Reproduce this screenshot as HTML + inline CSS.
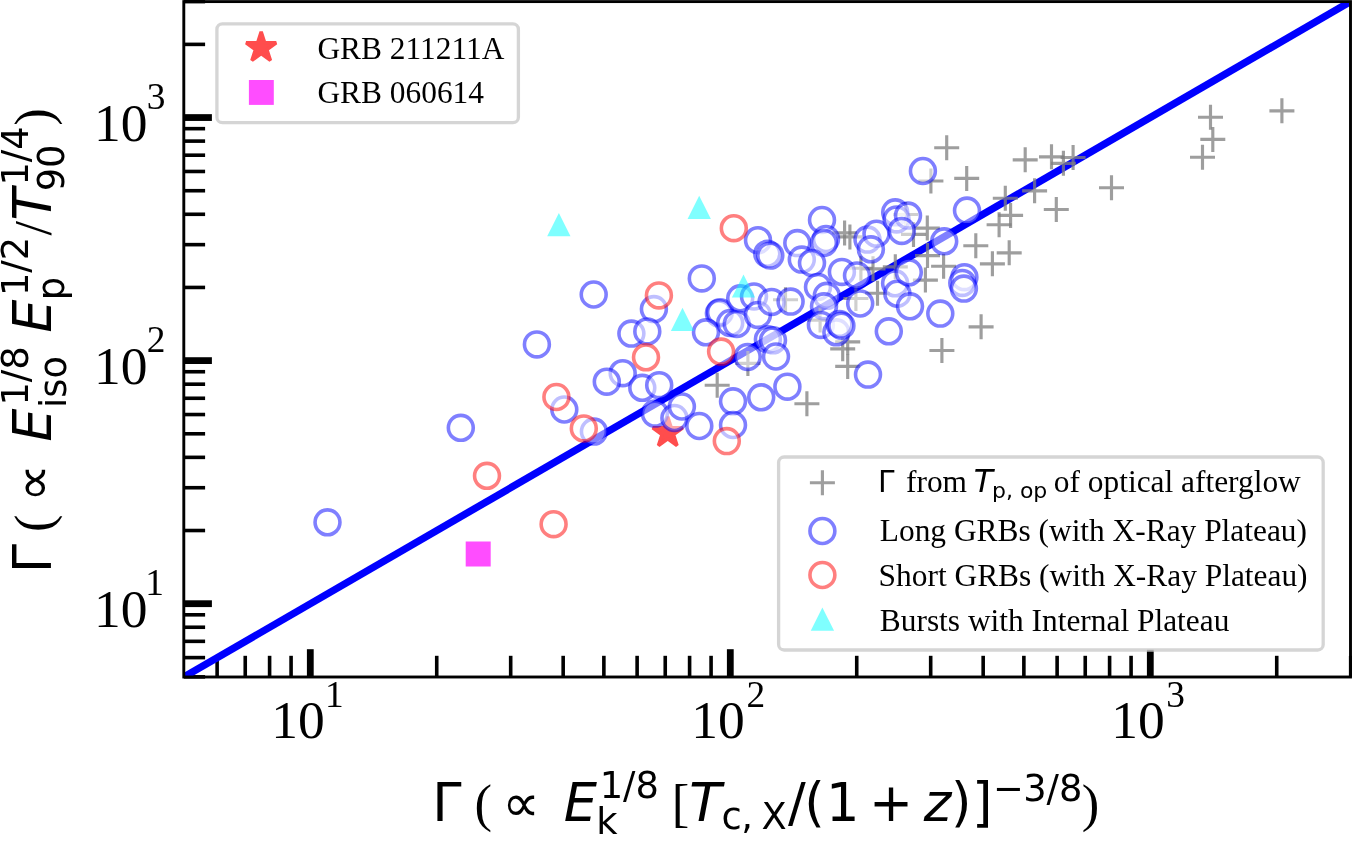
<!DOCTYPE html>
<html lang="en"><head><meta charset="utf-8"><title>Gamma correlation plot</title>
<style>html,body{margin:0;padding:0;background:#fff}svg{display:block}</style></head>
<body>
<svg width="1352" height="845" viewBox="0 0 1352 845">
<rect width="1352" height="845" fill="#fff"/>
<clipPath id="ax"><rect x="183.8" y="1.6" width="1166.7" height="675.4"/></clipPath>
<g stroke="#000" fill="none">
<line x1="310.30" y1="677.0" x2="310.30" y2="649.2" stroke-width="6.8"/>
<line x1="183.8" y1="603.69" x2="211.9" y2="603.69" stroke-width="6.8"/>
<line x1="730.30" y1="677.0" x2="730.30" y2="649.2" stroke-width="6.8"/>
<line x1="183.8" y1="360.62" x2="211.9" y2="360.62" stroke-width="6.8"/>
<line x1="1150.30" y1="677.0" x2="1150.30" y2="649.2" stroke-width="6.8"/>
<line x1="183.8" y1="117.55" x2="211.9" y2="117.55" stroke-width="6.8"/>
<line x1="183.8" y1="676.86" x2="205.1" y2="676.86" stroke-width="3.6"/>
<line x1="217.12" y1="677.0" x2="217.12" y2="655.8" stroke-width="3.6"/>
<line x1="183.8" y1="657.61" x2="205.1" y2="657.61" stroke-width="3.6"/>
<line x1="245.24" y1="677.0" x2="245.24" y2="655.8" stroke-width="3.6"/>
<line x1="183.8" y1="641.34" x2="205.1" y2="641.34" stroke-width="3.6"/>
<line x1="269.60" y1="677.0" x2="269.60" y2="655.8" stroke-width="3.6"/>
<line x1="183.8" y1="627.25" x2="205.1" y2="627.25" stroke-width="3.6"/>
<line x1="291.08" y1="677.0" x2="291.08" y2="655.8" stroke-width="3.6"/>
<line x1="183.8" y1="614.81" x2="205.1" y2="614.81" stroke-width="3.6"/>
<line x1="436.73" y1="677.0" x2="436.73" y2="655.8" stroke-width="3.6"/>
<line x1="183.8" y1="530.52" x2="205.1" y2="530.52" stroke-width="3.6"/>
<line x1="510.69" y1="677.0" x2="510.69" y2="655.8" stroke-width="3.6"/>
<line x1="183.8" y1="487.72" x2="205.1" y2="487.72" stroke-width="3.6"/>
<line x1="563.17" y1="677.0" x2="563.17" y2="655.8" stroke-width="3.6"/>
<line x1="183.8" y1="457.35" x2="205.1" y2="457.35" stroke-width="3.6"/>
<line x1="603.87" y1="677.0" x2="603.87" y2="655.8" stroke-width="3.6"/>
<line x1="183.8" y1="433.79" x2="205.1" y2="433.79" stroke-width="3.6"/>
<line x1="637.12" y1="677.0" x2="637.12" y2="655.8" stroke-width="3.6"/>
<line x1="183.8" y1="414.54" x2="205.1" y2="414.54" stroke-width="3.6"/>
<line x1="665.24" y1="677.0" x2="665.24" y2="655.8" stroke-width="3.6"/>
<line x1="183.8" y1="398.27" x2="205.1" y2="398.27" stroke-width="3.6"/>
<line x1="689.60" y1="677.0" x2="689.60" y2="655.8" stroke-width="3.6"/>
<line x1="183.8" y1="384.18" x2="205.1" y2="384.18" stroke-width="3.6"/>
<line x1="711.08" y1="677.0" x2="711.08" y2="655.8" stroke-width="3.6"/>
<line x1="183.8" y1="371.74" x2="205.1" y2="371.74" stroke-width="3.6"/>
<line x1="856.73" y1="677.0" x2="856.73" y2="655.8" stroke-width="3.6"/>
<line x1="183.8" y1="287.45" x2="205.1" y2="287.45" stroke-width="3.6"/>
<line x1="930.69" y1="677.0" x2="930.69" y2="655.8" stroke-width="3.6"/>
<line x1="183.8" y1="244.65" x2="205.1" y2="244.65" stroke-width="3.6"/>
<line x1="983.17" y1="677.0" x2="983.17" y2="655.8" stroke-width="3.6"/>
<line x1="183.8" y1="214.28" x2="205.1" y2="214.28" stroke-width="3.6"/>
<line x1="1023.87" y1="677.0" x2="1023.87" y2="655.8" stroke-width="3.6"/>
<line x1="183.8" y1="190.72" x2="205.1" y2="190.72" stroke-width="3.6"/>
<line x1="1057.12" y1="677.0" x2="1057.12" y2="655.8" stroke-width="3.6"/>
<line x1="183.8" y1="171.47" x2="205.1" y2="171.47" stroke-width="3.6"/>
<line x1="1085.24" y1="677.0" x2="1085.24" y2="655.8" stroke-width="3.6"/>
<line x1="183.8" y1="155.20" x2="205.1" y2="155.20" stroke-width="3.6"/>
<line x1="1109.60" y1="677.0" x2="1109.60" y2="655.8" stroke-width="3.6"/>
<line x1="183.8" y1="141.11" x2="205.1" y2="141.11" stroke-width="3.6"/>
<line x1="1131.08" y1="677.0" x2="1131.08" y2="655.8" stroke-width="3.6"/>
<line x1="183.8" y1="128.67" x2="205.1" y2="128.67" stroke-width="3.6"/>
<line x1="1276.73" y1="677.0" x2="1276.73" y2="655.8" stroke-width="3.6"/>
<line x1="183.8" y1="44.38" x2="205.1" y2="44.38" stroke-width="3.6"/>
<line x1="1350.69" y1="677.0" x2="1350.69" y2="655.8" stroke-width="3.6"/>
<line x1="183.8" y1="1.58" x2="205.1" y2="1.58" stroke-width="3.6"/>
</g>
<g clip-path="url(#ax)">
<line x1="183.8" y1="677.0" x2="1350.5" y2="1.6" stroke="#0000ff" stroke-width="7.3"/>
<g stroke="#808080" stroke-opacity="0.76" stroke-width="3.15" fill="none">
<path d="M773.0 299.7H798.0M785.5 287.2V312.2"/>
<path d="M807.6 320.1H832.6M820.1 307.6V332.6"/>
<path d="M843.4 298.5H868.4M855.9 286.0V311.0"/>
<path d="M830.2 348.8H855.2M842.7 336.3V361.3"/>
<path d="M835.2 341.9H860.2M847.7 329.4V354.4"/>
<path d="M835.2 366.4H860.2M847.7 353.9V378.9"/>
<path d="M929.4 350.5H954.4M941.9 338.0V363.0"/>
<path d="M735.4 363.4H760.4M747.9 350.9V375.9"/>
<path d="M704.7 385.2H729.7M717.2 372.7V397.7"/>
<path d="M794.4 403.7H819.4M806.9 391.2V416.2"/>
<path d="M968.6 326.8H993.6M981.1 314.3V339.3"/>
<path d="M931.1 266.2H956.1M943.6 253.7V278.7"/>
<path d="M979.9 263.8H1004.9M992.4 251.3V276.3"/>
<path d="M996.7 252.8H1021.7M1009.2 240.3V265.3"/>
<path d="M963.3 245.7H988.3M975.8 233.2V258.2"/>
<path d="M934.2 147.7H959.2M946.7 135.2V160.2"/>
<path d="M918.4 181.0H943.4M930.9 168.5V193.5"/>
<path d="M954.2 178.4H979.2M966.7 165.9V190.9"/>
<path d="M832.1 232.9H857.1M844.6 220.4V245.4"/>
<path d="M837.4 236.9H862.4M849.9 224.4V249.4"/>
<path d="M893.1 214.5H918.1M905.6 202.0V227.0"/>
<path d="M914.8 228.1H939.8M927.3 215.6V240.6"/>
<path d="M901.0 234.4H926.0M913.5 221.9V246.9"/>
<path d="M915.0 255.6H940.0M927.5 243.1V268.1"/>
<path d="M912.9 280.1H937.9M925.4 267.6V292.6"/>
<path d="M882.8 266.8H907.8M895.3 254.3V279.3"/>
<path d="M860.5 268.8H885.5M873.0 256.3V281.3"/>
<path d="M865.0 293.2H890.0M877.5 280.7V305.7"/>
<path d="M848.4 268.2H873.4M860.9 255.7V280.7"/>
<path d="M1012.7 159.8H1037.7M1025.2 147.3V172.3"/>
<path d="M1039.0 156.8H1064.0M1051.5 144.3V169.3"/>
<path d="M1050.9 163.3H1075.9M1063.4 150.8V175.8"/>
<path d="M1060.6 157.5H1085.6M1073.1 145.0V170.0"/>
<path d="M1022.1 190.8H1047.1M1034.6 178.3V203.3"/>
<path d="M992.8 198.2H1017.8M1005.3 185.7V210.7"/>
<path d="M998.1 215.4H1023.1M1010.6 202.9V227.9"/>
<path d="M986.6 224.7H1011.6M999.1 212.2V237.2"/>
<path d="M1043.8 209.5H1068.8M1056.3 197.0V222.0"/>
<path d="M1099.0 187.7H1124.0M1111.5 175.2V200.2"/>
<path d="M1198.0 117.2H1223.0M1210.5 104.7V129.7"/>
<path d="M1200.3 139.4H1225.3M1212.8 126.9V151.9"/>
<path d="M1190.0 157.2H1215.0M1202.5 144.7V169.7"/>
<path d="M1269.4 110.8H1294.4M1281.9 98.3V123.3"/>
</g>
<path d="M667.75 416.90L671.30 427.82L682.78 427.82L673.49 434.56L677.04 445.48L667.75 438.74L658.46 445.48L662.01 434.56L652.72 427.82L664.20 427.82Z" fill="#ff4d4d" stroke="#ff4d4d" stroke-width="3.45" stroke-linejoin="bevel"/>
<rect x="465.7" y="541.5" width="25" height="25" fill="#ff4dff"/>
<g stroke="#0000ff" stroke-opacity="0.5" stroke-width="3.6" fill="#fff" fill-opacity="0.5">
<circle cx="327.5" cy="522.3" r="12.45"/>
<circle cx="460.8" cy="427.8" r="12.45"/>
<circle cx="564.3" cy="409.5" r="12.45"/>
<circle cx="593.9" cy="431.6" r="12.45"/>
<circle cx="622.7" cy="373.2" r="12.45"/>
<circle cx="606.8" cy="381.7" r="12.45"/>
<circle cx="536.9" cy="344.4" r="12.45"/>
<circle cx="593.7" cy="294.5" r="12.45"/>
<circle cx="653.9" cy="309.1" r="12.45"/>
<circle cx="631.4" cy="333.6" r="12.45"/>
<circle cx="647.3" cy="331.4" r="12.45"/>
<circle cx="701.8" cy="278.4" r="12.45"/>
<circle cx="718.9" cy="313.3" r="12.45"/>
<circle cx="720.1" cy="312.2" r="12.45"/>
<circle cx="706.0" cy="332.3" r="12.45"/>
<circle cx="642.3" cy="387.8" r="12.45"/>
<circle cx="659.2" cy="385.2" r="12.45"/>
<circle cx="654.9" cy="413.6" r="12.45"/>
<circle cx="674.4" cy="418.0" r="12.45"/>
<circle cx="681.9" cy="406.5" r="12.45"/>
<circle cx="699.3" cy="426.0" r="12.45"/>
<circle cx="733.0" cy="401.3" r="12.45"/>
<circle cx="733.0" cy="425.0" r="12.45"/>
<circle cx="730.2" cy="323.0" r="12.45"/>
<circle cx="736.8" cy="323.9" r="12.45"/>
<circle cx="740.2" cy="298.3" r="12.45"/>
<circle cx="754.0" cy="296.5" r="12.45"/>
<circle cx="757.9" cy="314.9" r="12.45"/>
<circle cx="771.6" cy="301.9" r="12.45"/>
<circle cx="790.6" cy="301.6" r="12.45"/>
<circle cx="767.9" cy="339.3" r="12.45"/>
<circle cx="773.0" cy="340.3" r="12.45"/>
<circle cx="747.7" cy="356.9" r="12.45"/>
<circle cx="776.0" cy="356.5" r="12.45"/>
<circle cx="758.0" cy="240.2" r="12.45"/>
<circle cx="767.3" cy="253.8" r="12.45"/>
<circle cx="770.3" cy="255.6" r="12.45"/>
<circle cx="797.3" cy="243.1" r="12.45"/>
<circle cx="822.0" cy="220.0" r="12.45"/>
<circle cx="826.0" cy="239.0" r="12.45"/>
<circle cx="823.9" cy="242.9" r="12.45"/>
<circle cx="801.8" cy="259.6" r="12.45"/>
<circle cx="812.0" cy="263.0" r="12.45"/>
<circle cx="841.9" cy="271.9" r="12.45"/>
<circle cx="857.0" cy="275.5" r="12.45"/>
<circle cx="867.5" cy="239.6" r="12.45"/>
<circle cx="876.5" cy="233.7" r="12.45"/>
<circle cx="870.9" cy="249.3" r="12.45"/>
<circle cx="818.0" cy="287.0" r="12.45"/>
<circle cx="826.8" cy="295.8" r="12.45"/>
<circle cx="824.0" cy="306.3" r="12.45"/>
<circle cx="860.2" cy="303.5" r="12.45"/>
<circle cx="895.2" cy="212.3" r="12.45"/>
<circle cx="896.6" cy="219.4" r="12.45"/>
<circle cx="908.0" cy="215.6" r="12.45"/>
<circle cx="901.8" cy="230.9" r="12.45"/>
<circle cx="922.9" cy="171.0" r="12.45"/>
<circle cx="944.2" cy="241.3" r="12.45"/>
<circle cx="967.0" cy="210.6" r="12.45"/>
<circle cx="895.1" cy="283.3" r="12.45"/>
<circle cx="897.4" cy="293.7" r="12.45"/>
<circle cx="908.8" cy="272.3" r="12.45"/>
<circle cx="910.0" cy="306.3" r="12.45"/>
<circle cx="940.3" cy="313.6" r="12.45"/>
<circle cx="888.8" cy="331.3" r="12.45"/>
<circle cx="820.9" cy="324.9" r="12.45"/>
<circle cx="836.4" cy="332.3" r="12.45"/>
<circle cx="839.4" cy="323.9" r="12.45"/>
<circle cx="841.4" cy="325.7" r="12.45"/>
<circle cx="868.0" cy="374.6" r="12.45"/>
<circle cx="787.4" cy="386.7" r="12.45"/>
<circle cx="761.2" cy="397.3" r="12.45"/>
<circle cx="964.4" cy="277.2" r="12.45"/>
<circle cx="962.3" cy="282.9" r="12.45"/>
<circle cx="963.9" cy="288.6" r="12.45"/>
</g>
<g stroke="#ff0000" stroke-opacity="0.5" stroke-width="3.6" fill="#fff" fill-opacity="0.5">
<circle cx="487.0" cy="475.8" r="12.45"/>
<circle cx="553.6" cy="524.2" r="12.45"/>
<circle cx="556.4" cy="397.0" r="12.45"/>
<circle cx="583.8" cy="428.4" r="12.45"/>
<circle cx="646.0" cy="357.3" r="12.45"/>
<circle cx="658.9" cy="295.4" r="12.45"/>
<circle cx="733.8" cy="228.2" r="12.45"/>
<circle cx="721.1" cy="351.6" r="12.45"/>
<circle cx="726.8" cy="441.1" r="12.45"/>
</g>
<g fill="#00ffff" fill-opacity="0.5">
<path d="M558.9 213.0L570.5 236.3H547.2Z"/>
<path d="M699.2 195.7L710.9 219.0H687.6Z"/>
<path d="M682.5 307.7L694.1 330.9H670.9Z"/>
<path d="M743.5 274.4L755.1 297.6H731.9Z"/>
</g>
</g>
<rect x="183.8" y="1.6" width="1166.7" height="675.4" stroke="#000" fill="none" stroke-width="2.9"/>
<text x="271.20" y="738.10" font-family="'Liberation Serif', serif" font-size="53.5">10</text>
<text x="324.91" y="706.50" font-family="'Liberation Serif', serif" font-size="37.4">1</text>
<text x="691.20" y="738.10" font-family="'Liberation Serif', serif" font-size="53.5">10</text>
<text x="746.46" y="706.50" font-family="'Liberation Serif', serif" font-size="37.4">2</text>
<text x="1111.20" y="738.10" font-family="'Liberation Serif', serif" font-size="53.5">10</text>
<text x="1166.31" y="706.50" font-family="'Liberation Serif', serif" font-size="37.4">3</text>
<text x="93.90" y="627.09" font-family="'Liberation Serif', serif" font-size="53.5">10</text>
<text x="145.21" y="595.09" font-family="'Liberation Serif', serif" font-size="37.4">1</text>
<text x="93.90" y="384.02" font-family="'Liberation Serif', serif" font-size="53.5">10</text>
<text x="146.86" y="352.02" font-family="'Liberation Serif', serif" font-size="37.4">2</text>
<text x="93.90" y="140.95" font-family="'Liberation Serif', serif" font-size="53.5">10</text>
<text x="146.71" y="108.95" font-family="'Liberation Serif', serif" font-size="37.4">3</text>
<text x="432.14" y="821.10" font-family="'DejaVu Sans', sans-serif" font-size="52.6">Γ</text>
<text x="474.39" y="821.10" font-family="'Liberation Serif', serif" font-size="52.6">(</text>
<text x="502.25" y="821.10" font-family="'DejaVu Sans', sans-serif" font-size="52.6">∝</text>
<text x="563.69" y="821.10" font-family="'DejaVu Sans', sans-serif" font-size="52.6" font-style="italic">E</text>
<text x="596.36" y="834.40" font-family="'DejaVu Sans', sans-serif" font-size="36.8">k</text>
<text x="599.66" y="797.90" font-family="'DejaVu Sans', sans-serif" font-size="36.8">1/8</text>
<text x="671.70" y="821.10" font-family="'Liberation Serif', serif" font-size="52.6">[</text>
<text x="689.34" y="821.10" font-family="'DejaVu Sans', sans-serif" font-size="52.6" font-style="italic">T</text>
<text x="721.47" y="829.10" font-family="'DejaVu Sans', sans-serif" font-size="36.8">c</text>
<text x="741.16" y="829.10" font-family="'DejaVu Sans', sans-serif" font-size="36.8">,</text>
<text x="761.50" y="829.10" font-family="'DejaVu Sans', sans-serif" font-size="36.8">X</text>
<text x="787.90" y="821.10" font-family="'DejaVu Sans', sans-serif" font-size="52.6">/</text>
<text x="804.18" y="821.10" font-family="'DejaVu Sans', sans-serif" font-size="52.6">(</text>
<text x="826.12" y="821.10" font-family="'DejaVu Sans', sans-serif" font-size="52.6">1</text>
<text x="868.93" y="821.10" font-family="'DejaVu Sans', sans-serif" font-size="52.6">+</text>
<text x="923.85" y="821.10" font-family="'DejaVu Sans', sans-serif" font-size="52.6" font-style="italic">z</text>
<text x="950.89" y="821.10" font-family="'DejaVu Sans', sans-serif" font-size="52.6">)</text>
<text x="971.89" y="821.10" font-family="'DejaVu Sans', sans-serif" font-size="52.6">]</text>
<text x="993.00" y="800.60" font-family="'DejaVu Sans', sans-serif" font-size="36.8">−</text>
<text x="1023.20" y="800.60" font-family="'DejaVu Sans', sans-serif" font-size="36.8">3/8</text>
<text x="1081.80" y="821.10" font-family="'Liberation Serif', serif" font-size="52.6">)</text>
<g transform="translate(50.5,568) rotate(-90)">
<text x="-5.16" y="0.00" font-family="'DejaVu Sans', sans-serif" font-size="52.6">Γ</text>
<text x="35.99" y="0.00" font-family="'Liberation Serif', serif" font-size="52.6">(</text>
<text x="66.35" y="0.00" font-family="'DejaVu Sans', sans-serif" font-size="52.6">∝</text>
<text x="126.39" y="0.00" font-family="'DejaVu Sans', sans-serif" font-size="52.6" font-style="italic">E</text>
<text x="160.03" y="15.00" font-family="'DejaVu Sans', sans-serif" font-size="36.8">iso</text>
<text x="162.46" y="-23.00" font-family="'DejaVu Sans', sans-serif" font-size="36.8">1/8</text>
<text x="235.39" y="0.00" font-family="'DejaVu Sans', sans-serif" font-size="52.6" font-style="italic">E</text>
<text x="267.66" y="13.00" font-family="'DejaVu Sans', sans-serif" font-size="36.8">p</text>
<text x="271.96" y="-23.00" font-family="'DejaVu Sans', sans-serif" font-size="36.8">1/2</text>
<text x="332.50" y="0.00" font-family="'Liberation Serif', serif" font-size="52.6">/</text>
<text x="347.64" y="0.00" font-family="'DejaVu Sans', sans-serif" font-size="52.6" font-style="italic">T</text>
<text x="376.68" y="13.00" font-family="'DejaVu Sans', sans-serif" font-size="36.8">90</text>
<text x="382.46" y="-23.00" font-family="'DejaVu Sans', sans-serif" font-size="36.8">1/4</text>
<text x="442.30" y="0.00" font-family="'Liberation Serif', serif" font-size="52.6">)</text>
</g>
<rect x="216.9" y="23.9" width="301.5" height="98.80000000000001" rx="5.5" ry="5.5" fill="#fff" fill-opacity="0.8" stroke="#cccccc" stroke-opacity="0.82" stroke-width="3.3"/>
<path d="M261.17 31.87L264.72 42.79L276.20 42.79L266.91 49.53L270.46 60.45L261.17 53.71L251.88 60.45L255.43 49.53L246.14 42.79L257.62 42.79Z" fill="#ff4d4d" stroke="#ff4d4d" stroke-width="3.45" stroke-linejoin="bevel"/>
<rect x="248.9" y="80.0" width="24.9" height="24.9" fill="#ff4dff"/>
<text x="317.41" y="58.50" font-family="'Liberation Serif', serif" font-size="31.4">GRB 211211A</text>
<text x="317.41" y="103.00" font-family="'Liberation Serif', serif" font-size="31.4">GRB 060614</text>
<rect x="778.6" y="457.0" width="544.6" height="193.0" rx="5.5" ry="5.5" fill="#fff" fill-opacity="0.8" stroke="#cccccc" stroke-opacity="0.82" stroke-width="3.3"/>
<path d="M809.9 482.7H834.9M822.4 470.2V495.2" stroke="#808080" stroke-opacity="0.76" stroke-width="3.15" fill="none"/>
<circle cx="822.4" cy="531.0" r="12.45" stroke="#0000ff" stroke-opacity="0.5" stroke-width="3.6" fill="#fff" fill-opacity="0.5"/>
<circle cx="822.4" cy="575.0" r="12.45" stroke="#ff0000" stroke-opacity="0.5" stroke-width="3.6" fill="#fff" fill-opacity="0.5"/>
<path d="M822.4 607.5L834.05 630.8H810.75Z" fill="#00ffff" fill-opacity="0.5"/>
<text x="878.09" y="491.50" font-family="'DejaVu Sans', sans-serif" font-size="29.6">Γ</text>
<text x="906.03" y="491.50" font-family="'Liberation Serif', serif" font-size="31.4">from</text>
<text x="973.65" y="491.50" font-family="'DejaVu Sans', sans-serif" font-size="31.4" font-style="italic">T</text>
<text x="992.00" y="498.00" font-family="'DejaVu Sans', sans-serif" font-size="21.979999999999997">p, op</text>
<text x="1053.80" y="491.50" font-family="'Liberation Serif', serif" font-size="31.4">of optical afterglow</text>
<text x="879.80" y="541.00" font-family="'Liberation Serif', serif" font-size="31.4">Long GRBs (with X-Ray Plateau)</text>
<text x="878.60" y="585.80" font-family="'Liberation Serif', serif" font-size="31.4">Short GRBs (with X-Ray Plateau)</text>
<text x="879.80" y="630.60" font-family="'Liberation Serif', serif" font-size="31.4">Bursts with Internal Plateau</text>
</svg>
</body></html>
